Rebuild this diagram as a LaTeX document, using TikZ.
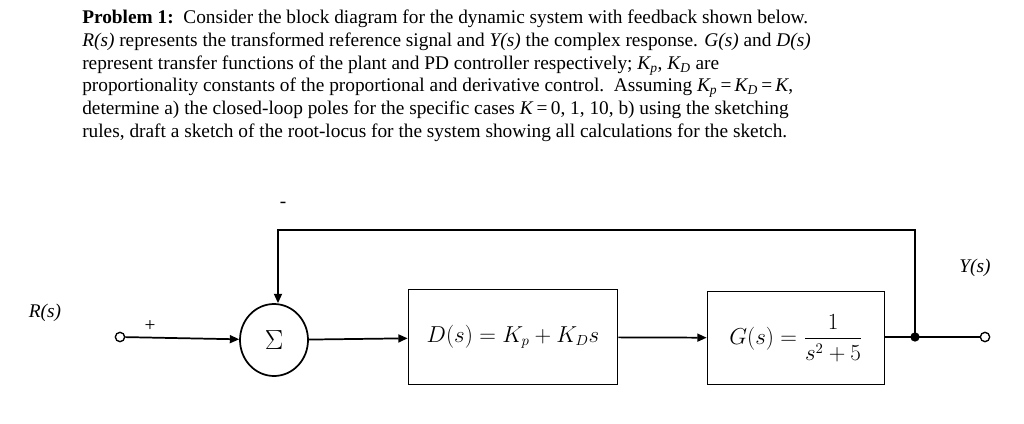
\documentclass[tikz,border=0pt]{standalone}
\usepackage{amsmath}
\usepackage{fontspec}
\setmainfont{Liberation Serif}
\usetikzlibrary{arrows.meta,shapes.geometric}
\begin{document}
\begin{tikzpicture}[x=0.75pt,y=-0.75pt,
  blk/.style={draw,line width=1.3pt,inner sep=0},
  ln/.style={line width=1.3pt},
  arr/.style={ln,-{Triangle[length=7pt,width=6pt]}},
  lab/.style={font=\fontsize{14.5}{17}\selectfont}]
\useasboundingbox (0,0) rectangle (1024,424);
\node[lab,anchor=north west,align=left,inner sep=0] (txt) at (82,10) {\textbf{Problem 1:}\, Consider the block diagram for the dynamic system with feedback shown below.\\
\textit{R(s)} represents the transformed reference signal and \textit{Y(s)} the complex response. \textit{G(s)} and \textit{D(s)}\\
represent transfer functions of the plant and PD controller respectively; \textit{K\textsubscript{p}}, \textit{K\textsubscript{D}} are\\
proportionality constants of the proportional and derivative control.\ \ Assuming \textit{K\textsubscript{p}}\,=\,\textit{K\textsubscript{D}}\,=\,\textit{K},\\
determine a) the closed-loop poles for the specific cases \textit{K}\,=\,0, 1, 10, b) using the sketching\\
rules, draft a sketch of the root-locus for the system showing all calculations for the sketch.};
\node[circle,draw,line width=1pt,inner sep=0,minimum size=7pt] (in) at (120,337) {};
\node[ellipse,draw,line width=1.3pt,minimum width=68pt*0.75,minimum height=72pt*0.75,inner sep=0,font=\fontsize{22}{22}\selectfont] (sum) at (274,340) {$\Sigma$};
\node[blk,minimum width=209pt*0.75,minimum height=95pt*0.75] (D) at (513,337) {\fontsize{16}{16}\selectfont $D(s)=K_p+K_Ds$};
\node[blk,minimum width=177pt*0.75,minimum height=93pt*0.75] (G) at (796,338) {\fontsize{16}{16}\selectfont $G(s)=\dfrac{1}{s^2+5}$};
\coordinate (br) at (915,337);
\fill (br) circle (3.5pt);
\node[circle,draw,line width=1pt,inner sep=0,minimum size=7pt] (out) at (985,337) {};
\coordinate (c1) at (915,230);
\coordinate (c2) at (278,230);
\draw[arr] (in) -- (sum);
\draw[arr] (sum) -- (D);
\draw[arr] (D) -- (G);
\draw[ln] (G.east|-br) -- (br) -- (out);
\draw[arr] (br) -- (c1) -- (c2) -- (sum.north -| c2);
\node[lab] (plus) at (150,326) {+};
\node[lab] (minus) at (283,205) {-};
\node[lab] (R) at (45,313) {\textit{R(s)}};
\node[lab] (Y) at (975,268) {\textit{Y(s)}};
\end{tikzpicture}
\end{document}
